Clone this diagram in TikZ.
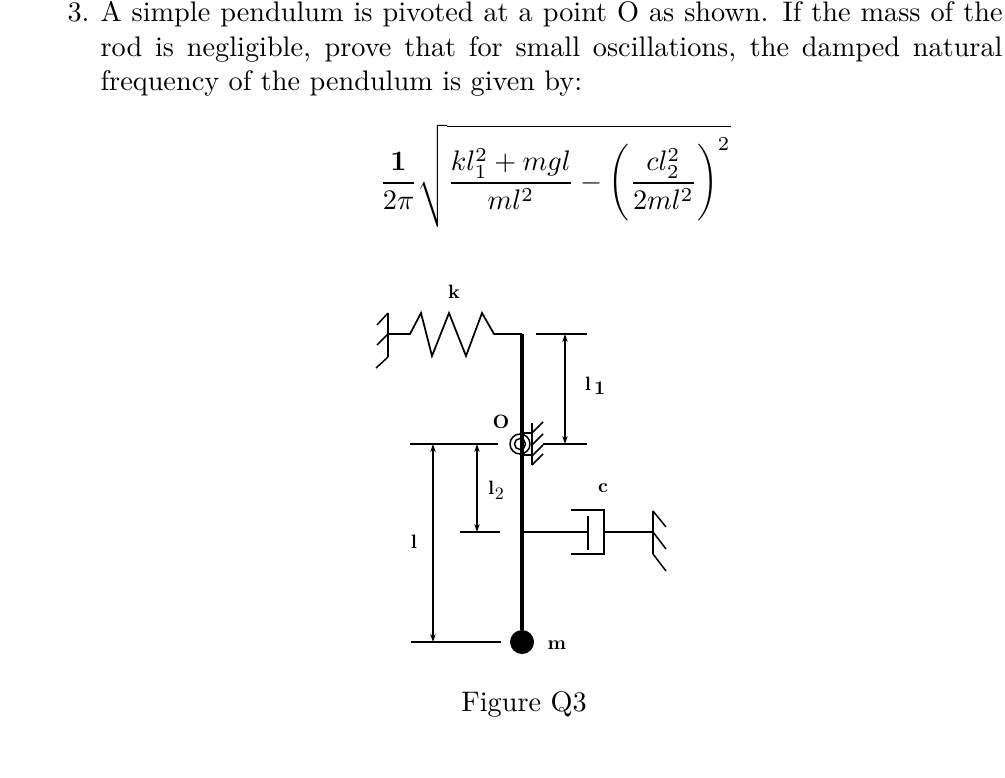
\documentclass[tikz,border=0pt]{standalone}
\usepackage{amsmath}
\usepackage{graphicx}
\usetikzlibrary{arrows.meta}
\tikzset{
  txt/.style={anchor=base west,inner sep=0pt,scale=2.12},
  big/.style={inner sep=0pt,scale=2.12},
  lab/.style={inner sep=0pt,scale=1.45,font=\bfseries},
  thin line/.style={line width=1.1pt,black},
  rodline/.style={line width=2.3pt,black},
  dim/.style={line width=1.1pt,black,{Stealth[length=6pt,width=4pt]}-{Stealth[length=6pt,width=4pt]}},
  hatch/.style={line width=1.1pt,black}
}
\newcommand{\tallL}{\scalebox{1}[1.13]{$\biggl($}}
\newcommand{\tallR}{\scalebox{1}[1.13]{$\biggr)$}}
\begin{document}
\begin{tikzpicture}[x=0.75pt,y=-0.75pt]
\useasboundingbox (0,0) rectangle (1005,777);
% text
\node[txt] (num) at (67,22) {3.};
\node[txt] (l1) at (100,22) {\makebox[319.1pt][s]{A simple pendulum is pivoted at a point O as shown. If the mass of the}};
\node[txt] (l2) at (100,57) {\makebox[319.1pt][s]{rod is negligible, prove that for small oscillations, the damped natural}};
\node[txt] (l3) at (100,91) {frequency of the pendulum is given by:};
\node[big] (eq) at (555,176) {$\displaystyle \frac{\mathbf{1}}{2\pi}\sqrt{\frac{kl_1^2+mgl}{ml^2}-\tallL\frac{cl_2^2}{2ml^2}\tallR^{2}}$};
\node[big] (fig) at (524,704) {Figure Q3};
% named points
\coordinate (wlT) at (388,313);
\coordinate (wlB) at (388,357);
\coordinate (wlM) at (388,334);
\coordinate (top) at (522,334);
\coordinate (piv) at (520,444);
\coordinate (dampJ) at (522,532);
\node[circle,fill=black,minimum size=24*0.75pt,inner sep=0pt] (ball) at (522,642) {};
% wall left
\draw[line width=1.4pt] (wlT) -- (wlB);
\coordinate (h1) at (377,325); \coordinate (h2) at (377,345); \coordinate (h3) at (376,368);
\draw[hatch] (wlT) -- (h1);
\draw[hatch] (wlM) -- (h2);
\draw[hatch] (wlB) -- (h3);
% spring
\draw[line width=1.3pt,line join=miter] (wlM) -- (410,334) -- (421,313) -- (432,356) -- (449,313) -- (466,356) -- (482,313) -- (494,334) -- (top);
% rod
\draw[rodline] (top) -- (ball);
% pivot
\node[circle,draw,line width=1.1pt,minimum size=20*0.75pt,inner sep=0pt] (po) at (piv) {};
\node[circle,draw,line width=1.1pt,minimum size=11*0.75pt,inner sep=0pt] (pi) at (piv) {};
\coordinate (wpT) at (532,423); \coordinate (wpB) at (532,465);
\draw[line width=1.4pt] (wpT) -- (wpB);
\foreach \y in {433,445,456,465}{
  \draw[hatch] (532,\y) -- (543,\y-11);
}
\draw[hatch] (520,433) -- (532,433);
\draw[hatch] (520,455) -- (532,455);
% reference lines
\coordinate (a1T) at (565,334); \coordinate (a1B) at (565,444);
\coordinate (a2T) at (477,444); \coordinate (a2B) at (477,532);
\coordinate (a3T) at (433,444); \coordinate (a3B) at (433,642);
\draw[thin line] (536,334) -- (587,334);
\draw[thin line] (543,444) -- (587,444);
\draw[thin line] (410,444) -- (498,444);
\draw[thin line] (460,532) -- (500,532);
\draw[thin line] (411,642) -- (501,642);
\draw[dim] (a1T) -- (a1B);
\draw[dim] (a2T) -- (a2B);
\draw[dim] (a3T) -- (a3B);
% damper
\coordinate (pist) at (588,532);
\coordinate (cylR) at (604,532);
\coordinate (wrM) at (653,532);
\draw[thin line] (dampJ) -- (pist);
\draw[thin line] (588,516) -- (588,550);
\draw[line width=1.2pt] (571,510) -- (604,510) -- (604,554) -- (571,554);
\draw[thin line] (cylR) -- (wrM);
\draw[line width=1.4pt] (653,511) -- (653,554);
\draw[hatch] (653,511) -- (666,527);
\draw[hatch] (wrM) -- (666,549);
\draw[hatch] (653,554) -- (666,571);
% labels
\node[lab] (lk) at (454,292) {k};
\node[lab] (lO) at (501,422) {O};
\node[lab] (ll1) at (595,386) {l\,\raisebox{-2pt}{1}};
\node[lab] (ll2) at (496,490) {l\kern0.3pt\raisebox{-2.5pt}{\small\mdseries 2}};
\node[lab] (lc) at (603,488) {c};
\node[lab] (ll) at (414,542) {l};
\node[lab] (lm) at (557,645) {m};
\end{tikzpicture}
\end{document}
